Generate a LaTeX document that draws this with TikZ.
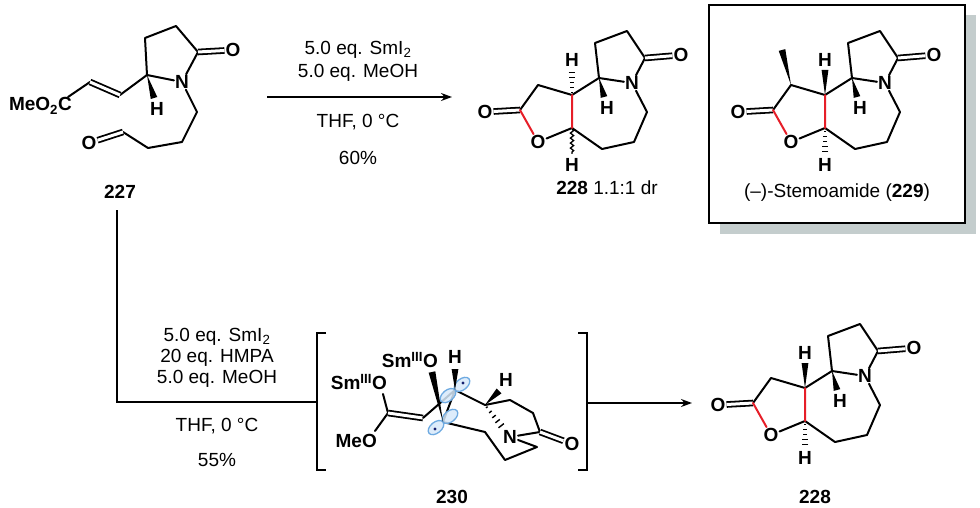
\documentclass[tikz,border=0pt]{standalone}
\usepackage{fontspec}
\setmainfont{Liberation Sans}
\usetikzlibrary{calc,decorations.pathmorphing,arrows.meta}
\definecolor{redb}{RGB}{230,30,40}
\definecolor{shadowc}{RGB}{196,205,205}
\definecolor{lobed}{RGB}{110,170,225}
\definecolor{lobef}{RGB}{215,233,250}
\definecolor{dotc}{RGB}{20,30,110}
\tikzset{
 bond/.style={line width=2pt,line join=round,line cap=round},
 dbl/.style={double,double distance=3pt,line width=1.8pt},
 redbond/.style={bond,draw=redb},
 atom/.style={font=\bfseries\fontsize{19}{19}\selectfont,inner sep=1pt},
 cond/.style={font=\fontsize{19}{19}\selectfont,inner sep=0pt},
 lab/.style={font=\fontsize{19}{19}\selectfont,inner sep=0pt},
 rxn/.style={line width=1.5pt},
 lobe/.style={draw=lobed,line width=1.3pt,fill=lobef,fill opacity=0.85},
}
\newcommand\wdg[2]{\fill ($(#1)$) -- ($(#2)!3.4pt!90:(#1)$) -- ($(#2)!3.4pt!-90:(#1)$) -- cycle;}
\newcommand\hsh[2]{\foreach \hT in {0.1,0.3,0.5,0.7,0.9}{\pgfmathsetlengthmacro\hw{0.7pt+3pt*\hT}\coordinate (hp) at ($(#1)!\hT!(#2)$); \draw[line width=1.4pt] ($(hp)!\hw!90:(#2)$) -- ($(hp)!\hw!-90:(#2)$);}}
\newcommand\lobepair[1]{%
 \path (#1) ++(7,-5.6) coordinate (lu) (#1) ++(-7,5.6) coordinate (ll);
 \draw[lobe] (lu) ellipse [x radius=9, y radius=5.5, rotate=39];
 \draw[lobe] (ll) ellipse [x radius=9, y radius=5.5, rotate=39];}
\newcommand\skel{%
 \node[atom] (O1) at (-87,17) {O};
 \coordinate (Cc) at (-52,15);
 \coordinate (Ca) at (-34,-10);
 \coordinate (F) at (0,0);
 \coordinate (Fb) at (0,33);
 \node[atom] (Or) at (-34,47) {O};
 \coordinate (S) at (27,-17);
 \coordinate (P1) at (23,-52);
 \coordinate (P2) at (55,-64);
 \coordinate (PC) at (73,-37);
 \node[atom] (O2) at (109,-40) {O};
 \node[atom] (N) at (60,-12) {N};
 \coordinate (Q1) at (75,17);
 \coordinate (Q2) at (62,47);
 \coordinate (Q3) at (30,54);
 \draw[bond] (Cc)--(Ca)--(F)--(S)--(P1)--(P2)--(PC)--(N)--(Q1)--(Q2)--(Q3)--(Fb);
 \draw[bond] (N)--(S) (Or)--(Fb);
 \draw[dbl] (PC)--(O2);
 \draw[dbl] (Cc)--(O1);
 \draw[redbond] (Cc)--(Or) (F)--(Fb);
 \node[atom] (Ht) at (0,-35) {H};
 \node[atom] (Hs) at (35,13) {H};
 \node[atom] (Hb) at (0,70) {H};
 \wdg{S}{32,2}
}
\begin{document}
\begin{tikzpicture}[x=1pt,y=-1pt]
\useasboundingbox (0,0) rectangle (980,508);
% ---------- 227
\coordinate (r1) at (145,38);
\coordinate (r2) at (176,26);
\coordinate (rc) at (198,52);
\node[atom] (ro) at (233,50) {O};
\node[atom] (rn) at (182,82) {N};
\coordinate (rs) at (147,75);
\node[atom] (rh) at (157,109) {H};
\coordinate (v1) at (120,95);
\coordinate (v2) at (90,82);
\node[atom,anchor=east] (mec) at (73,106) {MeO\textsubscript{2}C};
\coordinate (mecb) at (68,97);
\coordinate (n1) at (197,112);
\coordinate (n2) at (182,142);
\coordinate (n3) at (148,148);
\coordinate (n4) at (123,132);
\node[atom] (ald) at (89,143) {O};
\draw[bond] (rn)--(rs)--(r1)--(r2)--(rc)--(rn);
\draw[dbl] (rc)--(ro);
\draw[bond] (rs)--(v1) (v2)--(mecb);
\draw[dbl] (v1)--(v2);
\draw[bond] (rn)--(n1)--(n2)--(n3)--(n4);
\draw[dbl] (n4)--(ald);
\wdg{rs}{154,98}
\node[atom] (l227) at (120,192) {227};
% ---------- top arrow
\coordinate (a1) at (267,97);
\coordinate (a2) at (452,97);
\draw[rxn,-{Stealth[length=11pt,width=8pt]}] (a1)--(a2);
\node[cond] (t1) at (358,50) {5.0 eq. SmI\textsubscript{2}};
\node[cond] (t2) at (358,73) {5.0 eq. MeOH};
\node[cond] (t3) at (358,122) {THF, 0 °C};
\node[cond] (t4) at (358,158) {60\%};
% ---------- 228 top
\begin{scope}[shift={(572,95)}]
 \skel
 \hsh{0,0}{0,-25}
 \draw[line width=1.3pt,decorate,decoration={snake,amplitude=1.6pt,segment length=5pt}] (0,34)--(0,59);
\end{scope}
\node[lab] (l228a) at (607,188) {\textbf{228} 1.1:1 dr};
% ---------- 229 box
\fill[shadowc] (720,15) rectangle (976,234);
\fill[white] (709,5) rectangle (965,223);
\draw[line width=1.5pt] (709,5) rectangle (965,223);
\begin{scope}[shift={(825,95)}]
 \skel
 \wdg{0,0}{0,-25}
 \hsh{0,34}{0,59}
 \wdg{Ca}{-43,-45}
\end{scope}
\node[lab] (l229) at (837,193) {(–)-Stemoamide (\textbf{229})};
% ---------- lower route
\coordinate (b0) at (117,210);
\coordinate (b1) at (117,402);
\coordinate (b2) at (317,402);
\draw[line width=1.3pt] (b0)--(b1)--(b2);
\node[cond] (c1) at (217,337) {5.0 eq. SmI\textsubscript{2}};
\node[cond] (c2) at (217,358) {20 eq. HMPA};
\node[cond] (c3) at (217,379) {5.0 eq. MeOH};
\node[cond] (c4) at (217,426) {THF, 0 °C};
\node[cond] (c5) at (217,460) {55\%};
\draw[line width=1.5pt] (326,333)--(317,333)--(317,470)--(326,470);
\draw[line width=1.5pt] (578,333)--(587,333)--(587,470)--(578,470);
\coordinate (b3) at (587,403);
\coordinate (b4) at (692,403);
\draw[rxn,-{Stealth[length=11pt,width=8pt]}] (b3)--(b4);
% ---------- 230
\coordinate (cs) at (443,422);
\coordinate (rcx) at (455,390);
\coordinate (vc) at (423,418);
\coordinate (ec) at (388,413);
\coordinate (hc) at (485,405);
\coordinate (k1) at (510,400);
\coordinate (k2) at (533,413);
\coordinate (kc) at (540,432);
\node[atom] (ko) at (572,444) {O};
\node[atom] (kn) at (510,437) {N};
\coordinate (m1) at (485,432);
\coordinate (m2) at (505,460);
\coordinate (m3) at (537,447);
\node[atom,anchor=east] (sm1) at (388,382) {Sm\textsuperscript{III}O};
\node[atom,anchor=east] (sm2) at (439,360) {Sm\textsuperscript{III}O};
\node[atom,anchor=east] (meo) at (378,441) {MeO};
\coordinate (eo) at (383,394);
\coordinate (em) at (375,431);
\node[atom] (hr) at (455,357) {H};
\node[atom] (hh) at (506,380) {H};
\draw[bond] (eo)--(ec)--(em);
\draw[dbl] (ec)--(vc);
\draw[bond] (vc)--(rcx) (cs)--(rcx) (rcx)--(hc)--(k1)--(k2)--(kc)--(kn);
\draw[bond] (cs)--(m1)--(m2)--(m3)--(kn);
\draw[dbl] (kc)--(ko);
\lobepair{cs}
\lobepair{rcx}
\fill[dotc] ($(rcx)+(8,-7)$) circle (1.6pt);
\fill[dotc] ($(cs)+(-8,7)$) circle (1.6pt);
\wdg{cs}{432,372}
\wdg{rcx}{455,369}
\wdg{hc}{499,391}
\hsh{hc}{503,428}
\node[atom] (l230) at (452,497) {230};
% ---------- 228 bottom
\begin{scope}[shift={(805,388)}]
 \skel
 \wdg{0,0}{0,-25}
 \hsh{0,34}{0,59}
\end{scope}
\node[atom] (l228b) at (815,497) {228};
\end{tikzpicture}
\end{document}
